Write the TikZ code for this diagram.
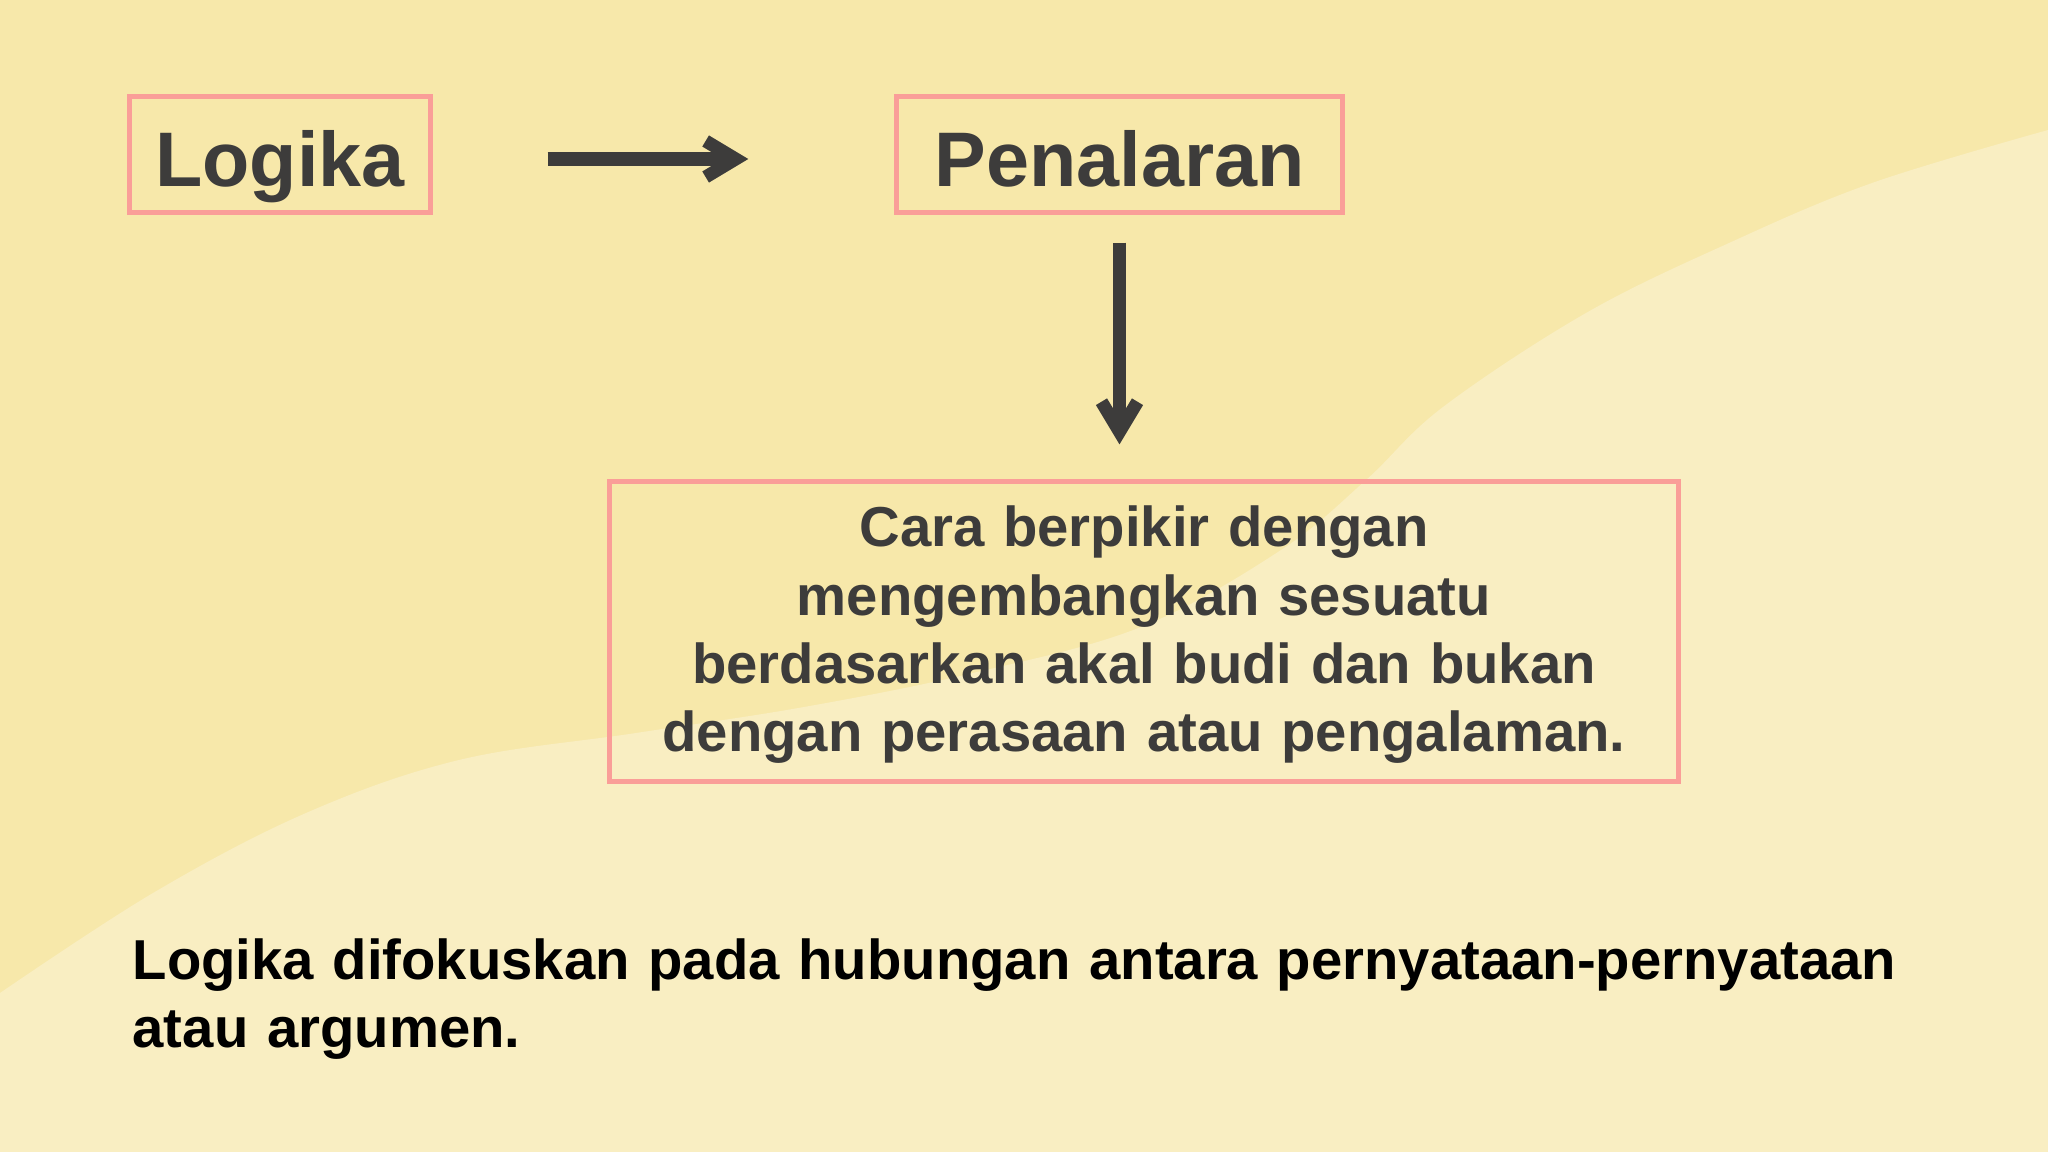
\documentclass[tikz,border=0pt]{standalone}
\usepackage{fontspec}
\setmainfont{Liberation Sans}
\usetikzlibrary{arrows.meta}
\definecolor{bgdark}{HTML}{F7E8AA}
\definecolor{bglight}{HTML}{F9EEC2}
\definecolor{boxpink}{HTML}{FA9E98}
\definecolor{inkgray}{HTML}{3D3C3B}

\begin{document}
\begin{tikzpicture}[x=0.01cm, y=-0.01cm,
        >={Straight Barb[length=0.3cm, width=0.36cm, line cap=butt, sharp]},
        titlebox/.style={draw=boxpink, line width=0.05cm, inner sep=0pt, text=inkgray,
            font=\fontsize{22}{26}\selectfont\bfseries, text height=0.895cm, text depth=0.265cm},
        notebox/.style={draw=boxpink, line width=0.05cm, inner sep=0pt, text=inkgray, align=center,
            font=\fontsize{16}{19.4}\selectfont\bfseries, text height=0.655cm, text depth=2.345cm},
        arrowline/.style={->, draw=inkgray, line width=0.13cm}]
            \useasboundingbox (0, 0) rectangle (2048, 1152);
            \fill[bgdark] (0, 0) rectangle (2048, 1152);
            \fill[bglight] plot[smooth, tension=0.6] coordinates {(0, 993) (153, 893) (306, 813) (459, 760)
                (636, 733) (804, 707) (973, 673) (1141, 627) (1281, 550) (1366, 480) (1443, 407)
                (1586, 313) (1729, 243) (1872, 183) (2048, 130)} -- (2048, 1152) -- (0, 1152) -- cycle;
            \node[titlebox, minimum width=3.01cm] (logika) at (280, 154.5) {Logika};
            \node[titlebox, minimum width=4.46cm] (penalaran) at (1119.5, 154.5) {Penalaran};
            \node[notebox, text width=10.69cm] (makna) at (1144, 631.5) {
                Cara berpikir dengan\\
                mengembangkan sesuatu\\
                berdasarkan akal budi dan bukan\\
                dengan perasaan atau pengalaman.
            };
            \node[anchor=base west, inner sep=0pt, text width=19cm, align=left,
                font=\fontsize{16}{19.4}\selectfont\bfseries] (ringkasan) at (132, 979) {
                Logika difokuskan pada hubungan antara pernyataan-pernyataan\\
                atau argumen.
            };
            \draw[arrowline, shorten <=1.145cm, shorten >=1.455cm]
                ([yshift=-0.045cm]logika.east) -- ([yshift=-0.045cm]penalaran.west);
            \draw[arrowline, shorten <=0.275cm, shorten >=0.345cm]
                (penalaran.south) -- (penalaran.south |- makna.north);
        \end{tikzpicture}
\end{document}
